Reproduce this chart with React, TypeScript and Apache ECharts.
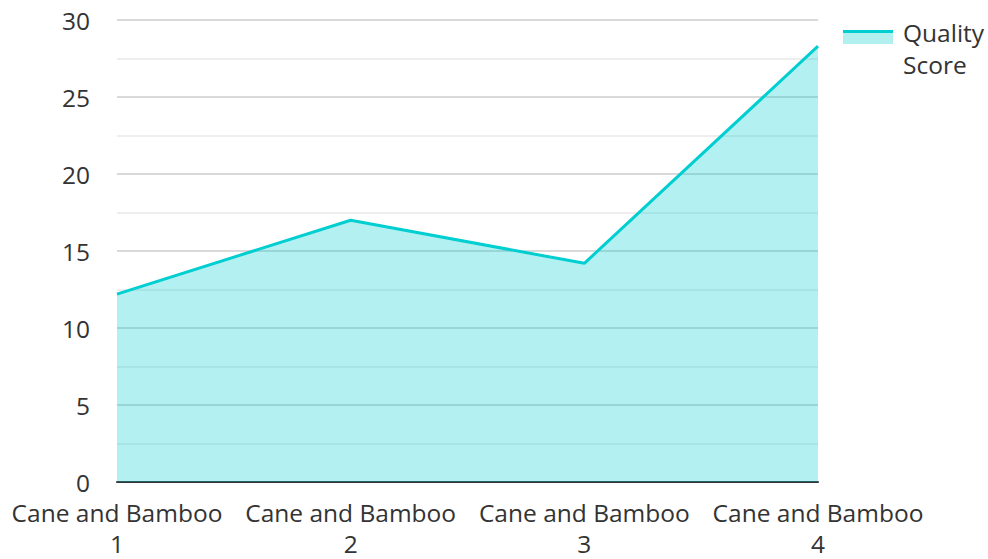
import React, { useEffect, useRef } from "react";
import * as echarts from "echarts";

const categories = ["Cane and Bamboo\n1", "Cane and Bamboo\n2", "Cane and Bamboo\n3", "Cane and Bamboo\n4"];
const qualityScore = [12.2, 17.0, 14.2, 28.3];
const seriesName = "Quality Score";
const LINE = "#00CED1";
const FILL = "#B2F0F0";
const FONT = "'Open Sans', 'Noto Sans', sans-serif";

export default function App() {
  const ref = useRef<HTMLDivElement>(null);
  useEffect(() => {
    if (!ref.current) return;
    const chart = echarts.init(ref.current, null, { renderer: "svg" });
    chart.setOption({
      animation: false,
      textStyle: { fontFamily: FONT },
      grid: { left: 117, right: 170, top: 20, bottom: 72 },
      xAxis: {
        type: "category",
        data: categories,
        boundaryGap: false,
        axisLine: { show: true, lineStyle: { color: "#333", width: 2 } },
        axisTick: { show: false },
        axisLabel: { color: "#333", fontSize: 24.5, lineHeight: 31, margin: 15, interval: 0, hideOverlap: false, fontFamily: FONT },
        splitLine: { show: false },
      },
      yAxis: {
        type: "value",
        min: 0,
        max: 30,
        interval: 5,
        axisLine: { show: false },
        axisTick: { show: false },
        axisLabel: { color: "#333", fontSize: 24.5, lineHeight: 22, margin: 27, fontFamily: FONT },
        splitLine: { show: true, lineStyle: { color: "#ccc", width: 1.5 } },
        minorTick: { show: false, splitNumber: 2 },
        minorSplitLine: { show: true, lineStyle: { color: "#e8e8e8", width: 1.5 } },
      },
      series: [
        {
          name: seriesName,
          type: "line",
          data: qualityScore,
          symbol: "none",
          lineStyle: { color: LINE, width: 3 },
          itemStyle: { color: LINE },
          areaStyle: { color: LINE, opacity: 0.3 },
        },
      ],
      graphic: [
        { type: "rect", shape: { x: 843, y: 31, width: 50, height: 13 }, style: { fill: FILL } },
        { type: "line", shape: { x1: 843, y1: 31.5, x2: 893, y2: 31.5 }, style: { stroke: LINE, lineWidth: 3 } },
        {
          type: "text",
          x: 903,
          y: 16,
          style: { text: "Quality\nScore", fill: "#333", font: `24.5px ${FONT}`, lineHeight: 32 },
        },
      ],
    });
    return () => chart.dispose();
  }, []);
  return <div ref={ref} style={{ width: 988, height: 559, position: "absolute", left: 0, top: 0 }} />;
}
